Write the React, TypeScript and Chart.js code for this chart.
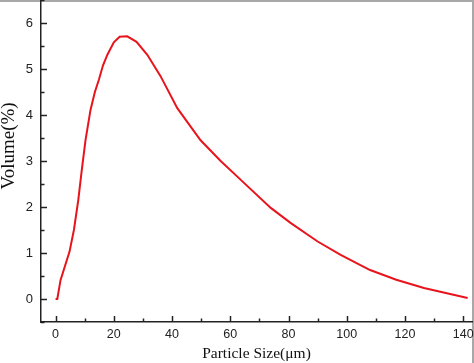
import React, { useEffect, useRef } from "react";
import { Chart, registerables } from "chart.js";

Chart.register(...registerables);

const particleSize = [0, 0.6, 1.7, 4.8, 6.3, 7.8, 9, 10.3, 12, 13.5, 14.9, 16.3, 17.8, 20, 22, 24.6, 27.8, 31.5, 36, 41.8, 49.8, 56.7, 63.6, 73.9, 80.8, 90, 97.9, 108, 117, 126.5, 141.5];
const volume = [0, 0, 0.41, 1.03, 1.5, 2.15, 2.8, 3.46, 4.11, 4.5, 4.77, 5.08, 5.31, 5.58, 5.7, 5.71, 5.59, 5.31, 4.85, 4.15, 3.45, 3.0, 2.59, 1.98, 1.65, 1.25, 0.96, 0.63, 0.42, 0.24, 0.02];

const xMajorTicks = [0, 20, 40, 60, 80, 100, 120, 140];
const xMinorTicks = [10, 30, 50, 70, 90, 110, 130];
const yMajorTicks = [0, 1, 2, 3, 4, 5, 6];
const yMinorTicks = [-0.5, 0.5, 1.5, 2.5, 3.5, 4.5, 5.5, 6.5];

const xTitle = "Particle Size(μm)";
const yTitle = "Volume(%)";

const tickPlugin = {
  id: "innerTicks",
  beforeDraw(chart: any) {
    const { ctx } = chart;
    ctx.save();
    ctx.fillStyle = "#a8a8a8";
    ctx.fillRect(0, 0, chart.width, 2);
    ctx.fillRect(chart.width - 2, 0, 2, chart.height);
    ctx.restore();
  },
  afterDraw(chart: any) {
    const { ctx, chartArea, scales } = chart;
    const xs = scales.x;
    const ys = scales.y;
    ctx.save();
    ctx.strokeStyle = "#222";
    ctx.lineWidth = 1.5;
    const drawX = (vals: number[], len: number) => {
      vals.forEach((v) => {
        const px = Math.round(xs.getPixelForValue(v)) + 0.5;
        ctx.beginPath();
        ctx.moveTo(px, chartArea.bottom);
        ctx.lineTo(px, chartArea.bottom - len);
        ctx.stroke();
      });
    };
    const drawY = (vals: number[], len: number) => {
      vals.forEach((v) => {
        const py = Math.round(ys.getPixelForValue(v)) + 0.5;
        ctx.beginPath();
        ctx.moveTo(chartArea.left, py);
        ctx.lineTo(chartArea.left + len, py);
        ctx.stroke();
      });
    };
    drawX(xMajorTicks, 6);
    drawX(xMinorTicks, 3.5);
    drawY(yMajorTicks, 6);
    drawY(yMinorTicks, 3.5);
    // y axis title
    ctx.save();
    ctx.translate(9, 146);
    ctx.rotate(-Math.PI / 2);
    ctx.fillStyle = "#111";
    ctx.font = "19px 'Liberation Serif', 'Times New Roman', serif";
    ctx.textAlign = "center";
    ctx.textBaseline = "middle";
    ctx.fillText(yTitle, 0, 0);
    ctx.restore();
    ctx.restore();
  },
};

export default function App() {
  const ref = useRef<HTMLCanvasElement | null>(null);
  useEffect(() => {
    document.body.style.margin = "0";
    const chart = new Chart(ref.current as HTMLCanvasElement, {
      type: "line",
      data: {
        datasets: [
          {
            data: particleSize.map((x, i) => ({ x, y: volume[i] })),
            borderColor: "#e8141c",
            borderWidth: 2,
            pointRadius: 0,
            tension: 0,
            fill: false,
          },
        ],
      },
      options: {
        animation: false,
        responsive: true,
        maintainAspectRatio: false,
        layout: { padding: { top: 0, right: 2, left: 0, bottom: 0 } },
        plugins: { legend: { display: false }, tooltip: { enabled: false } },
        scales: {
          x: {
            type: "linear",
            min: -5,
            max: 143,
            afterBuildTicks: (s: any) => {
              s.ticks = xMajorTicks.map((v) => ({ value: v }));
            },
            afterFit: (s: any) => {
              s.height = 41;
              s.paddingLeft = 0;
              s.paddingRight = 0;
            },
            grid: { display: false, drawTicks: false },
            border: { display: true, color: "#222", width: 1.5 },
            ticks: {
              color: "#222",
              padding: 5,
              maxRotation: 0,
              font: { family: "'Liberation Sans', Arial, sans-serif", size: 12.5 },
            },
            title: {
              display: true,
              text: xTitle,
              color: "#111",
              padding: { top: 0, bottom: 1 },
              font: { family: "'Liberation Serif', 'Times New Roman', serif", size: 15.5, lineHeight: 1 },
            },
          },
          y: {
            type: "linear",
            min: -0.5,
            max: 6.5,
            afterBuildTicks: (s: any) => {
              s.ticks = yMajorTicks.map((v) => ({ value: v }));
            },
            afterFit: (s: any) => {
              s.width = 41;
              s.paddingTop = 0;
              s.paddingBottom = 0;
            },
            grid: { display: false, drawTicks: false },
            border: { display: true, color: "#222", width: 1.5 },
            ticks: {
              color: "#222",
              padding: 8,
              font: { family: "'Liberation Sans', Arial, sans-serif", size: 13 },
            },
          },
        },
      },
      plugins: [tickPlugin],
    } as any);
    return () => chart.destroy();
  }, []);
  return (
    <div style={{ position: "fixed", left: 0, top: 0, width: 474, height: 363, background: "#fff" }}>
      <canvas ref={ref} />
    </div>
  );
}
